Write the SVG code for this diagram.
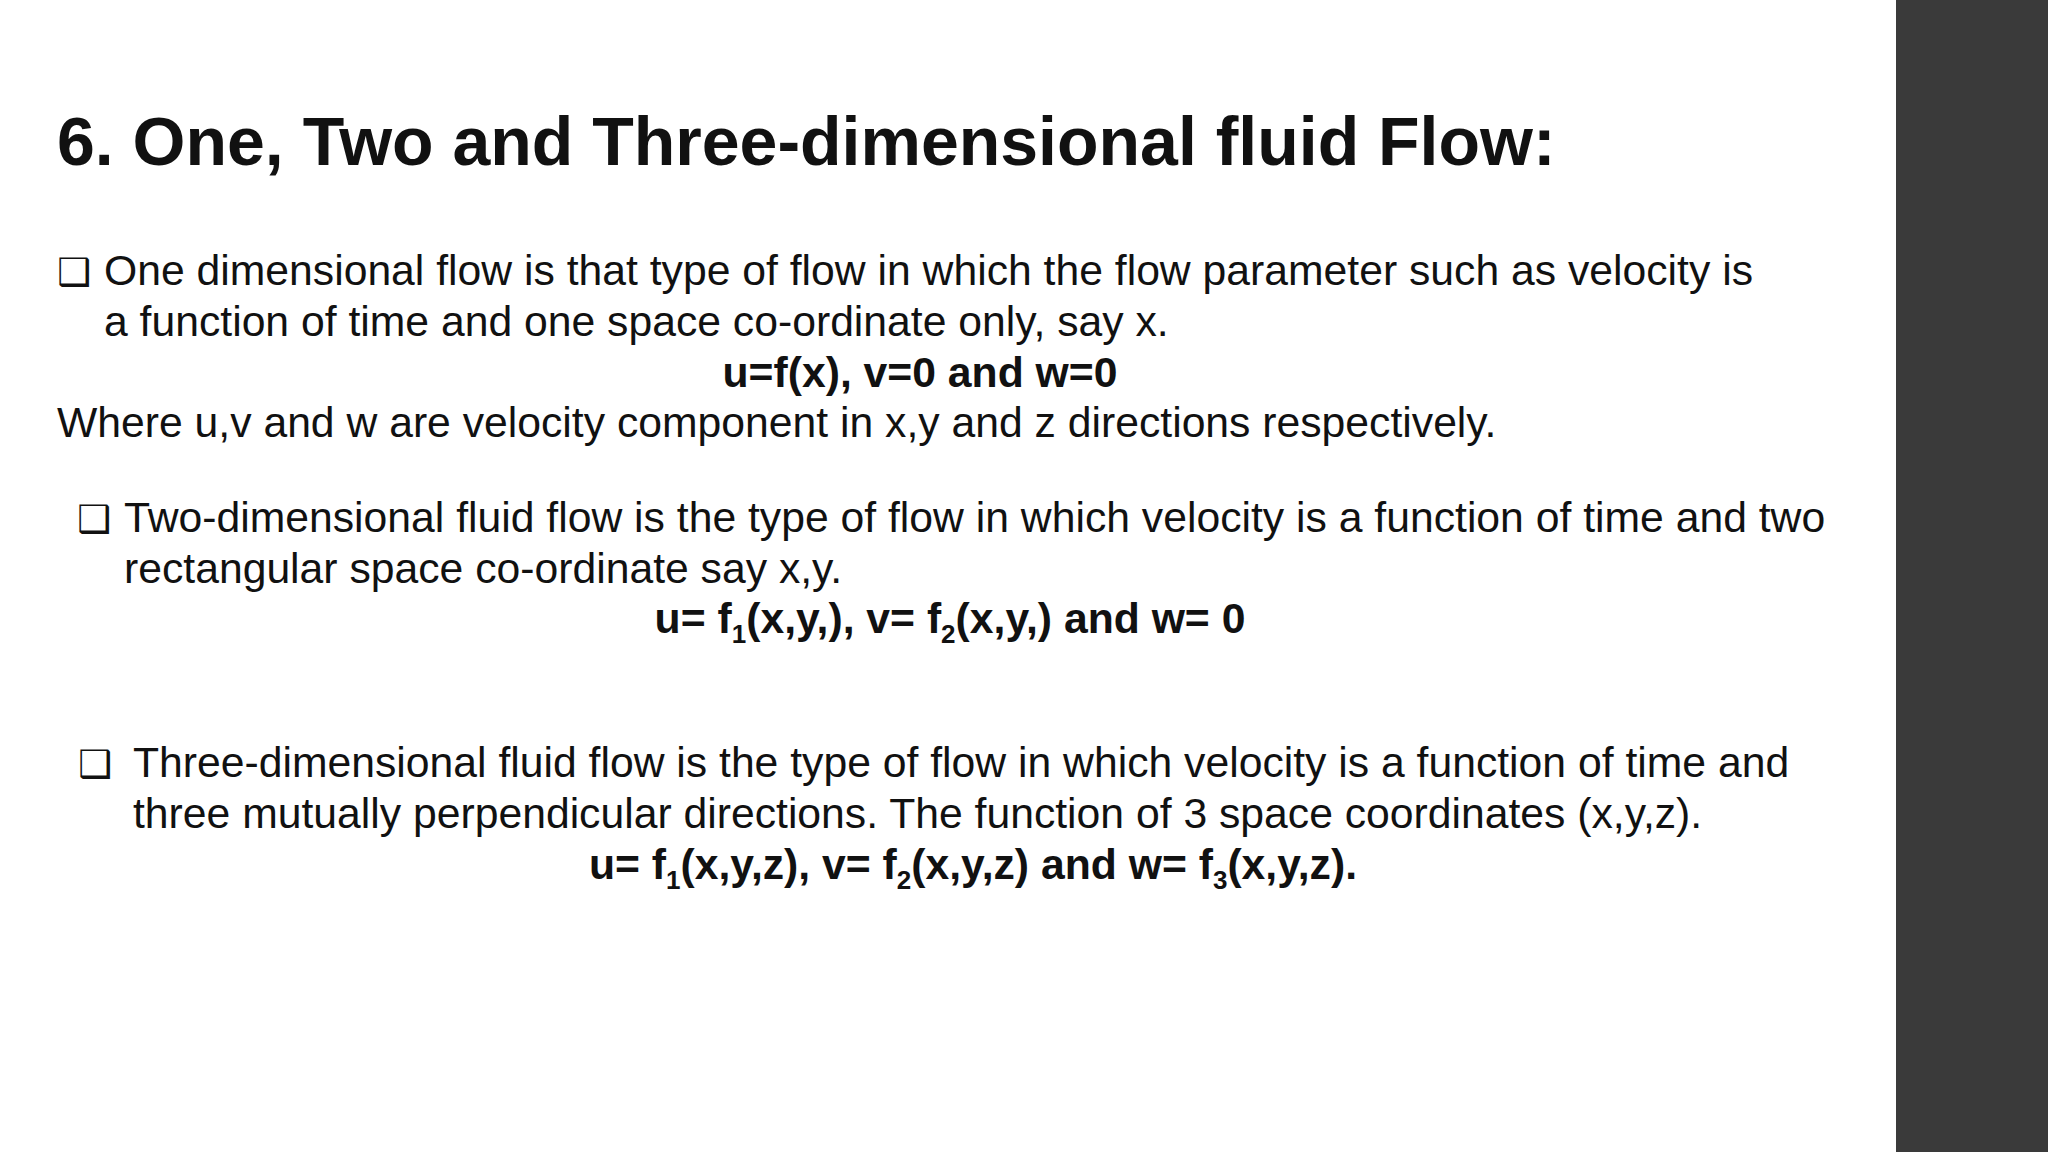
<svg xmlns="http://www.w3.org/2000/svg" width="2048" height="1152" viewBox="0 0 2048 1152">
<style>
.t{font-family:"Liberation Sans",Arial,sans-serif;fill:#111}
.h{font-size:68px;font-weight:bold}
.b{font-size:42.7px}
.e{font-size:42.7px;font-weight:bold;text-anchor:middle}
.c{font-family:"DejaVu Sans",sans-serif;font-size:38px;font-weight:bold;fill:#111}
.s{font-size:26px}
</style>
<rect width="2048" height="1152" fill="#fff"/>
<rect x="1896" y="0" width="152" height="1152" fill="#3a3a3a"/>
<text class="t h" x="57" y="165">6. One, Two and Three-dimensional fluid Flow:</text>
<g id="one">
<text class="c" x="57" y="285">❑</text>
<text class="t b" x="104" y="285">One dimensional flow is that type of flow in which the flow parameter such as velocity is</text>
<text class="t b" x="104" y="336">a function of time and one space co-ordinate only, say x.</text>
<text class="t e" x="920" y="387">u=f(x), v=0 and w=0</text>
<text class="t b" x="57" y="437">Where u,v and w are velocity component in x,y and z directions respectively.</text>
</g>
<g id="two">
<text class="c" x="77" y="532">❑</text>
<text class="t b" x="124" y="532">Two-dimensional fluid flow is the type of flow in which velocity is a function of time and two</text>
<text class="t b" x="124" y="583">rectangular space co-ordinate say x,y.</text>
<text class="t e" x="950" y="633">u= f<tspan class="s" dy="10">1</tspan><tspan dy="-10">(x,y,), v= f</tspan><tspan class="s" dy="10">2</tspan><tspan dy="-10">(x,y,) and w= 0</tspan></text>
</g>
<g id="three">
<text class="c" x="78" y="777">❑</text>
<text class="t b" x="133" y="777">Three-dimensional fluid flow is the type of flow in which velocity is a function of time and</text>
<text class="t b" x="133" y="828">three mutually perpendicular directions. The function of 3 space coordinates (x,y,z).</text>
<text class="t e" x="973" y="879">u= f<tspan class="s" dy="10">1</tspan><tspan dy="-10">(x,y,z), v= f</tspan><tspan class="s" dy="10">2</tspan><tspan dy="-10">(x,y,z) and w= f</tspan><tspan class="s" dy="10">3</tspan><tspan dy="-10">(x,y,z).</tspan></text>
</g>
<g id="connectors"/>
</svg>
